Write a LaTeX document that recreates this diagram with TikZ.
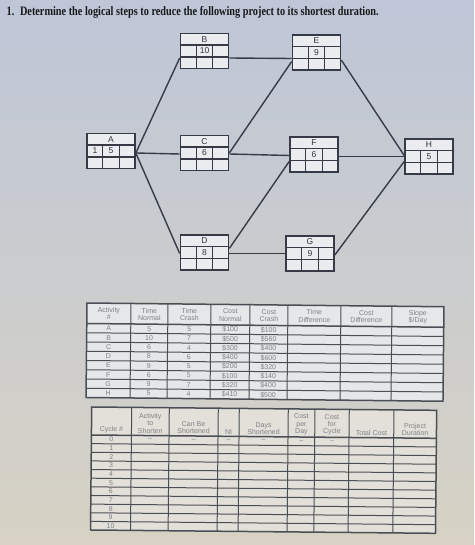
\documentclass[tikz,border=0pt]{standalone}
\usepackage{fontspec}
\setmainfont{Liberation Sans}
\newfontfamily\titlefont{Liberation Serif}
\usetikzlibrary{calc}
\definecolor{bgtop}{HTML}{BEC6D7}
\definecolor{bgmid}{HTML}{DEE0E6}
\definecolor{bgbot}{HTML}{D7D2C4}
\definecolor{inkline}{HTML}{363B47}
\definecolor{inktext}{HTML}{30343C}
\definecolor{tabline}{HTML}{4A4F56}
\definecolor{tabtext}{HTML}{7E8186}
\definecolor{tabfillA}{HTML}{E6E7E9}
\definecolor{tabfillB}{HTML}{E2E0D9}
\tikzset{
  abox/.style={draw=inkline, line width=1.6pt, minimum width=48pt, minimum height=35pt, inner sep=0pt, fill=bgmid!60!white},
  agrid/.style={draw=inkline, line width=1.3pt},
  btxt/.style={font=\fontsize{8.5}{9}\selectfont, text=inktext, inner sep=0pt},
  link/.style={draw=inkline, line width=1.4pt},
  tline/.style={draw=tabline, line width=1pt},
  tframe/.style={draw=tabline, line width=1.5pt},
  thead/.style={font=\fontsize{7}{7.3}\selectfont, text=tabtext, align=center, inner sep=0pt},
  tdata/.style={font=\fontsize{7}{7.5}\selectfont, text=tabtext, inner sep=0pt},
}
\newcommand\actbox[5]{%
  \node[abox] (#1) at (#2) {};
  \draw[agrid] ($(#1.north west)!1/3!(#1.south west)$) -- ($(#1.north east)!1/3!(#1.south east)$);
  \draw[agrid] ($(#1.north west)!2/3!(#1.south west)$) -- ($(#1.north east)!2/3!(#1.south east)$);
  \draw[agrid] ($(#1.north west)!1/3!(#1.north east)$) ++(0,11.67) -- ($(#1.south west)!1/3!(#1.south east)$);
  \draw[agrid] ($(#1.north west)!2/3!(#1.north east)$) ++(0,11.67) -- ($(#1.south west)!2/3!(#1.south east)$);
  \node[btxt] (#1-name) at ($(#1.center)+(0,-11.67)$) {#3};
  \node[btxt] (#1-es) at ($(#1.center)+(-16,0)$) {#4};
  \node[btxt] (#1-dur) at (#1.center) {#5};
}
\begin{document}
\begin{tikzpicture}[x=1pt,y=-1pt]
\useasboundingbox (0,0) rectangle (474,545);
\fill[top color=bgtop, middle color=bgmid, bottom color=bgbot] (0,0) rectangle (474,545);

% title
\node[anchor=base west, inner sep=0pt, text=black!90] (title) at (6.5,16)
  {\scalebox{1}[1.25]{\resizebox{372pt}{!}{\titlefont\bfseries\makebox[13pt][l]{1.}Determine the logical steps to reduce the following project to its shortest duration.}}};

% network boxes
\actbox{A}{111,151}{A}{1}{5}
\actbox{B}{204.5,51}{B}{}{10}
\actbox{C}{204.5,153}{C}{}{6}
\actbox{D}{204.5,252.5}{D}{}{8}
\actbox{E}{316.5,52.5}{E}{}{9}
\actbox{F}{314,154.5}{F}{}{6}
\actbox{G}{310,253.5}{G}{}{9}
\actbox{H}{429,156.5}{H}{}{5}

% connectors
\draw[link] ([yshift=-2pt]A.east) -- ([yshift=-7pt]B.west);
\draw[link] ([yshift=-2pt]A.east) -- ([yshift=-1pt]C.west);
\draw[link] ([yshift=-2pt]A.east) -- ([yshift=-1pt]D.west);
\draw[link] ([yshift=-7pt]B.east) -- ([yshift=-6pt]E.west);
\draw[link] ([yshift=0pt]C.east) -- ([yshift=-9pt]E.west);
\draw[link] ([yshift=-1pt]C.east) -- ([yshift=-1pt]F.west);
\draw[link] ([yshift=4pt]D.east) -- ([yshift=-7pt]F.west);
\draw[link] ([yshift=-1pt]D.east) -- ([yshift=0pt]G.west);
\draw[link] ([yshift=-7.5pt]E.east) -- ([yshift=1pt]H.west);
\draw[link] ([yshift=-2pt]F.east) -- ([yshift=0pt]H.west);
\draw[link] ([yshift=-1.5pt]G.east) -- ([yshift=-5pt]H.west);

% table 1
\begin{scope}[shift={(87,303)}, rotate=-0.6]
  \fill[tabfillA] (0,0) rectangle (357,94.5);
  \foreach \x in {44,81,124,163,201,254,305}
    \draw[tline] (\x,0) -- (\x,94.5);
  \foreach \i in {1,...,7}
    \draw[tline] (0,20.5+\i*9.25) -- (357,20.5+\i*9.25);
  \draw[tframe] (0,20.5) -- (357,20.5);
  \draw[tframe] (0,0) rectangle (357,94.5);
  \foreach \cx/\txt [count=\k] in {22/{Activity\\\#},62.5/{Time\\Normal},102.5/{Time\\Crash},143.5/{Cost\\Normal},182/{Cost\\Crash},227.5/{Time\\Difference},279.5/{Cost\\Difference},331/{Slope\\\$/Day}}
    \node[thead] (t1h\k) at (\cx,10.5) {\txt};
  \foreach \a/\tn/\tc/\cn/\cc [count=\i] in {A/5/5/100/100,B/10/7/500/560,C/6/4/300/400,D/8/6/400/600,E/9/5/200/320,F/6/5/100/140,G/9/7/320/400,H/5/4/410/500}{
    \node[tdata] (t1a\i) at (22,20.5+9.25*\i-4.6) {\a};
    \node[tdata] (t1n\i) at (62.5,20.5+9.25*\i-4.6) {\tn};
    \node[tdata] (t1c\i) at (102.5,20.5+9.25*\i-4.6) {\tc};
    \node[tdata] (t1cn\i) at (143.5,20.5+9.25*\i-4.6) {\$\cn};
    \node[tdata] (t1cc\i) at (182,20.5+9.25*\i-4.6) {\$\cc};
  }
\end{scope}

% table 2
\begin{scope}[shift={(91.7,407)}, rotate=-0.55]
  \fill[tabfillB] (0,0) rectangle (345,123);
  \foreach \x in {40,77.6,126.6,147.6,196.6,223.3,257.6,302.3}
    \draw[tline] (\x,0) -- (\x,123);
  \foreach \i in {1,...,10}
    \draw[tline] (0,28+\i*8.64) -- (345,28+\i*8.64);
  \draw[tframe] (0,28) -- (345,28);
  \draw[tframe] (0,0) rectangle (345,123);
  \foreach \cx/\txt [count=\k] in {20/{Cycle \#},58.8/{Activity\\to\\Shorten},102.1/{Can Be\\Shortened},137.1/{NI},172.1/{Days\\Shortened},210/{Cost\\per\\Day},240.5/{Cost\\for\\Cycle},280/{Total Cost},323.7/{Project\\Duration}}
    \node[thead, anchor=south] (t2h\k) at (\cx,26) {\txt};
  \foreach \n [count=\i] in {0,...,10}
    \node[tdata] (t2r\i) at (20,28+8.64*\i-4.3) {\n};
  \foreach \cx [count=\k] in {58.8,102.1,137.1,172.1,210,240.5}
    \node[tdata] (t2d\k) at (\cx,28+4.3) {--};
\end{scope}
\end{tikzpicture}
\end{document}
